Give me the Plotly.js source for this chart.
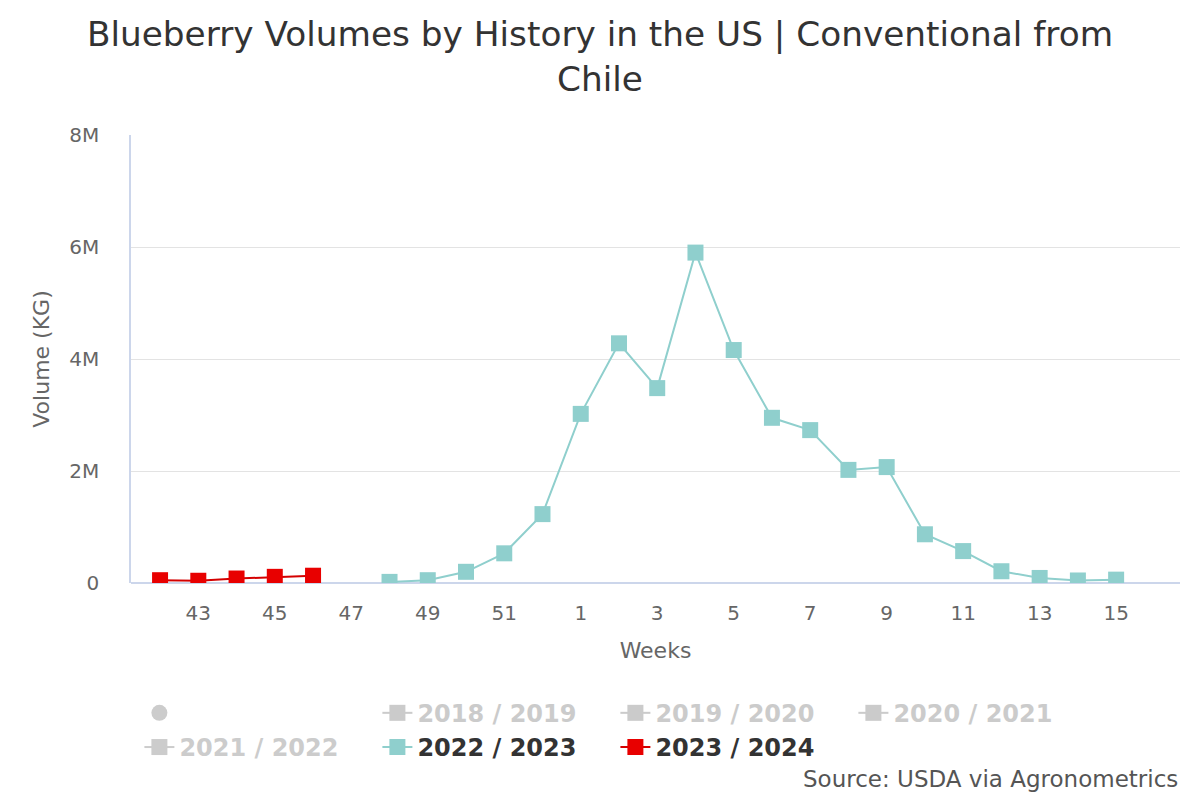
<!DOCTYPE html>
<html>
<head>
<meta charset="utf-8">
<script src="https://cdn.plot.ly/plotly-3.0.1.min.js"></script>
<style>
  html, body { margin: 0; padding: 0; background: #fff; }
  #chart { width: 1200px; height: 800px; }
</style>
</head>
<body>
<div id="chart"></div>
<script>
// Marketing weeks, season runs from week 42 into the following year
const weeks = ['42','43','44','45','46','47','48','49','50','51','52',
               '1','2','3','4','5','6','7','8','9','10','11','12','13','14','15'];
const weekTicks = ['43','45','47','49','51','1','3','5','7','9','11','13','15'];

// Weekly volumes (KG), null where no shipments were reported
const season2022_23 = [null, null, null, null, 30000, null, 20000, 50000, 200000, 530000, 1230000,
                       3020000, 4280000, 3480000, 5900000, 4160000, 2950000, 2730000, 2020000, 2070000,
                       870000, 570000, 210000, 90000, 45000, 60000];
const season2023_24 = [50000, 40000, 80000, 110000, 130000];

// Earlier seasons, switched off in the legend
const hiddenSeasons = ['2018 / 2019', '2019 / 2020', '2020 / 2021', '2021 / 2022'];

const TEAL = '#8fcfcd';
const RED = '#e80000';
const FONT = 'DejaVu Sans, sans-serif';

const traces = [];

// toggle-all bullet shown at the start of the legend
traces.push({
  x: [null], y: [null], type: 'scatter', mode: 'markers', name: ' ',
  marker: { symbol: 'circle', size: 22, color: '#cccccc' },
  hoverinfo: 'skip'
});

hiddenSeasons.forEach(name => {
  traces.push({
    x: [null], y: [null], type: 'scatter', mode: 'lines+markers', visible: 'legendonly',
    name: '<span style="color:#999999">' + name + '</span>',
    line: { color: '#999999', width: 2 },
    marker: { symbol: 'square', size: 16, color: '#999999' }
  });
});

traces.push({
  x: weeks, y: season2022_23, type: 'scatter', mode: 'lines+markers',
  name: '2022 / 2023', connectgaps: false,
  line: { color: TEAL, width: 2 },
  marker: { symbol: 'square', size: 16, color: TEAL }
});

traces.push({
  x: weeks.slice(0, season2023_24.length), y: season2023_24, type: 'scatter', mode: 'lines+markers',
  name: '2023 / 2024',
  line: { color: '#d40000', width: 2 },
  marker: { symbol: 'square', size: 16, color: RED }
});

const layout = {
  width: 1200, height: 800,
  paper_bgcolor: '#ffffff', plot_bgcolor: '#ffffff',
  margin: { l: 131, r: 20, t: 135, b: 217 },
  font: { family: FONT, color: '#666666', size: 20 },
  title: {
    text: 'Blueberry Volumes by History in the US | Conventional from<br>Chile',
    font: { family: FONT, size: 34.3, color: '#333333' },
    x: 0.5, xanchor: 'center', xref: 'container',
    y: 0.9425, yanchor: 'top', yref: 'container'
  },
  xaxis: {
    type: 'category',
    categoryorder: 'array', categoryarray: weeks,
    range: [-0.76, 26.67],
    tickmode: 'array', tickvals: weekTicks, ticktext: weekTicks,
    showgrid: false, zeroline: false,
    showline: false, ticks: '',
    ticklabelstandoff: 16,
    tickfont: { family: FONT, size: 20, color: '#666666' },
    title: { text: 'Weeks', font: { family: FONT, size: 22, color: '#666666' }, standoff: 18 },
    fixedrange: true
  },
  yaxis: {
    range: [0, 8000000], dtick: 2000000, tick0: 0,
    tickformat: '~s',
    showgrid: true, gridcolor: '#e3e3e3', gridwidth: 1,
    zeroline: true, zerolinecolor: '#ccd6eb', zerolinewidth: 2,
    showline: true, linecolor: '#ccd6eb', linewidth: 1.5,
    ticks: '', ticklabelstandoff: 26,
    tickfont: { family: FONT, size: 20, color: '#666666' },
    title: { text: 'Volume (KG)', font: { family: FONT, size: 22, color: '#666666' }, standoff: 14 },
    fixedrange: true
  },
  showlegend: true,
  legend: {
    orientation: 'h',
    x: 0.008, xanchor: 'left',
    y: -0.2405, yanchor: 'top',
    entrywidth: 193, entrywidthmode: 'pixels',
    font: { family: 'DejaVu Sans, sans-serif', size: 24, color: '#333333', weight: 'bold' },
    itemclick: false, itemdoubleclick: false,
    tracegroupgap: 0, valign: 'middle'
  },
  annotations: [{
    text: 'Source: USDA via Agronometrics',
    xref: 'paper', yref: 'paper',
    x: 1.0, xanchor: 'right',
    y: -0.4375, yanchor: 'middle',
    showarrow: false,
    font: { family: FONT, size: 23, color: '#555555' }
  }]
};

Plotly.newPlot('chart', traces, layout, { displayModeBar: false, responsive: false });
</script>
</body>
</html>
